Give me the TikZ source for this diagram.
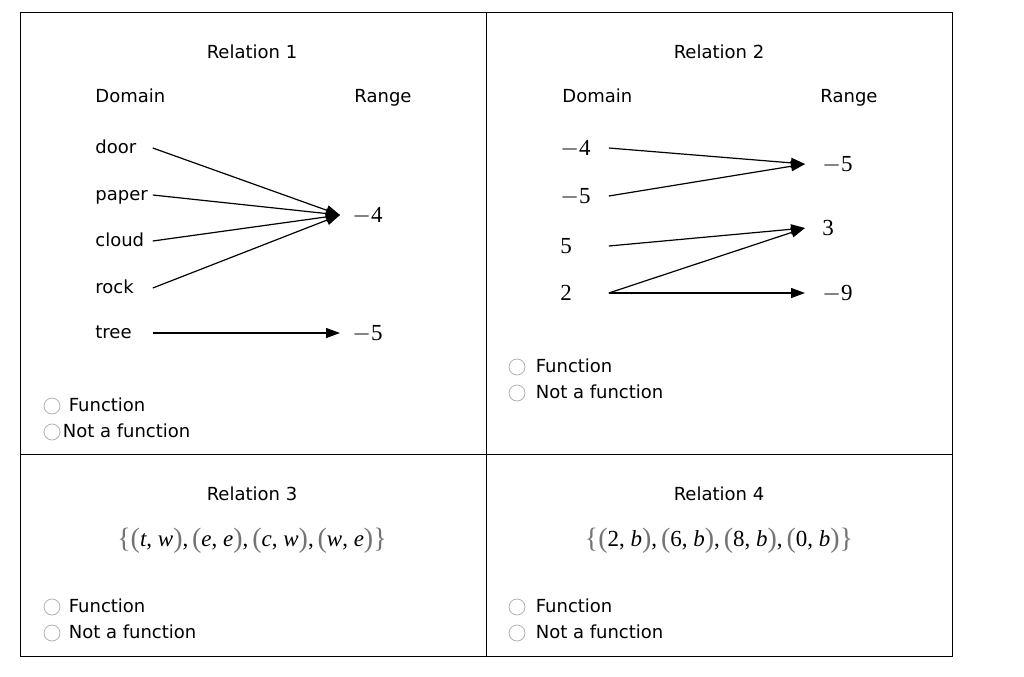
\documentclass[tikz,border=0pt]{standalone}
\usepackage{fontspec}
\setmainfont{DejaVu Sans}
\newfontfamily\numfont{Liberation Serif}
\usetikzlibrary{arrows.meta, positioning}

\newcommand{\gp}[1]{{\color{black!55}\fontsize{14}{14}\selectfont\raisebox{-0.8pt}{#1}}}
\newcommand{\mns}{\ensuremath{-}}

\tikzset{
  lbl/.style={font=\fontsize{9}{11}\selectfont, inner sep=0pt, text height=7pt, text depth=2pt},
  dom/.style={lbl, anchor=west, text width=28.5pt, align=left},
  num/.style={font=\numfont\fontsize{11.5}{13}\selectfont, inner sep=0pt, text height=7.5pt, text depth=0.5pt},
  domnum/.style={num, anchor=west, text width=24pt, align=left},
  rng/.style={num, anchor=west, inner xsep=6pt},
  maparrow/.style={-{Triangle[length=7pt,width=5pt]}, line width=0.6pt},
  radio/.style={circle, draw=black!30, fill=white, minimum size=8pt, inner sep=0pt},
  opt/.style={lbl, anchor=west},
  setexpr/.style={font=\numfont\fontsize{11.5}{13}\selectfont, inner sep=0pt}
}

\begin{document}
\begin{tikzpicture}[x=0.5pt, y=-0.5pt]
  \useasboundingbox (0,0) rectangle (1024,676);

  % --- frame ---
  \draw[line width=0.5pt] (20,12) rectangle (952,656);
  \draw[line width=0.5pt] (486,12) -- (486,656);
  \draw[line width=0.5pt] (20,454) -- (952,454);

  % --- Relation 1 ---
  \node[lbl] (t1) at (252,53) {Relation 1};
  \node[lbl, anchor=west] (d1) at (95,97) {Domain};
  \node[lbl] (r1) at (383,97) {Range};
  \node[dom] (door) at (95,148) {door};
  \node[dom] (paper) at (95,195) {paper};
  \node[dom] (cloud) at (95,241) {cloud};
  \node[dom] (rock) at (95,288) {rock};
  \node[dom] (tree) at (95,333) {tree};
  \node[rng] (ma) at (340,215) {\mns4};
  \node[rng] (mb) at (340,333) {\mns5};
  \draw[maparrow] (door.east) -- (ma.west);
  \draw[maparrow] (paper.east) -- (ma.west);
  \draw[maparrow] (cloud.east) -- (ma.west);
  \draw[maparrow] (rock.east) -- (ma.west);
  \draw[maparrow] (tree.east) -- (mb.west);
  \node[radio] (ra1) at (52,406) {};
  \node[opt, right=4pt of ra1] {Function};
  \node[radio] (rb1) at (52,432) {};
  \node[opt, right=1pt of rb1] {Not a function};

  % --- Relation 2 ---
  \node[lbl] (t2) at (719,53) {Relation 2};
  \node[lbl, anchor=west] (d2) at (562,97) {Domain};
  \node[lbl] (r2) at (849,97) {Range};
  \node[domnum] (xa) at (560,148) {\mns4};
  \node[domnum] (xb) at (560,196) {\mns5};
  \node[domnum] (xc) at (560,246) {5};
  \node[domnum] (xd) at (560,293) {2};
  \node[rng, inner xsep=8.5pt] (ya) at (805,164) {\mns5};
  \node[rng, inner xsep=8.5pt] (yb) at (805,228) {3};
  \node[rng, inner xsep=8.5pt] (yc) at (805,293) {\mns9};
  \draw[maparrow] (xa.east) -- (ya.west);
  \draw[maparrow] (xb.east) -- (ya.west);
  \draw[maparrow] (xc.east) -- (yb.west);
  \draw[maparrow] (xd.east) -- (yb.west);
  \draw[maparrow] (xd.east) -- (yc.west);
  \node[radio] (ra2) at (517,367) {};
  \node[opt, right=5pt of ra2] {Function};
  \node[radio] (rb2) at (517,393) {};
  \node[opt, right=5pt of rb2] {Not a function};

  % --- Relation 3 ---
  \node[lbl] (t3) at (252,495) {Relation 3};
  \node[setexpr] (s3) at (252,541) {\gp{\{}\gp{(}\textit{t}, \textit{w}\gp{)},\,\gp{(}\textit{e}, \textit{e}\gp{)},\,\gp{(}\textit{c}, \textit{w}\gp{)},\,\gp{(}\textit{w}, \textit{e}\gp{)}\gp{\}}};
  \node[radio] (ra3) at (52,607) {};
  \node[opt, right=4pt of ra3] {Function};
  \node[radio] (rb3) at (52,633) {};
  \node[opt, right=4pt of rb3] {Not a function};

  % --- Relation 4 ---
  \node[lbl] (t4) at (719,495) {Relation 4};
  \node[setexpr] (s4) at (719,541) {\gp{\{}\gp{(}2, \textit{b}\gp{)},\,\gp{(}6, \textit{b}\gp{)},\,\gp{(}8, \textit{b}\gp{)},\,\gp{(}0, \textit{b}\gp{)}\gp{\}}};
  \node[radio] (ra4) at (517,607) {};
  \node[opt, right=5pt of ra4] {Function};
  \node[radio] (rb4) at (517,633) {};
  \node[opt, right=5pt of rb4] {Not a function};
\end{tikzpicture}
\end{document}
